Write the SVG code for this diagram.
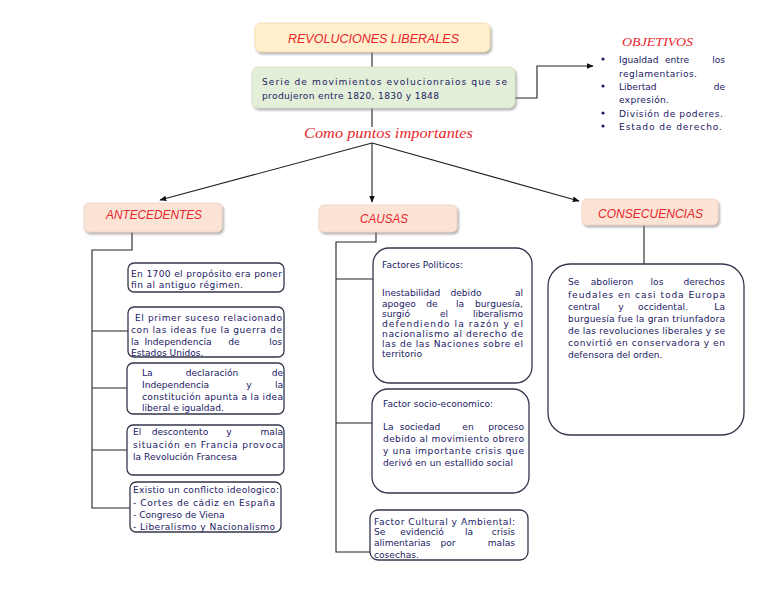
<svg xmlns="http://www.w3.org/2000/svg" width="768" height="594" viewBox="0 0 768 594">
<defs>
<filter id="sh" x="-10%" y="-20%" width="130%" height="160%"><feDropShadow dx="1.5" dy="2" stdDeviation="1.2" flood-color="#7a7a7a" flood-opacity="0.6"/></filter>
<marker id="ar" viewBox="0 0 10 10" refX="9" refY="5" markerWidth="7" markerHeight="7" orient="auto" markerUnits="userSpaceOnUse"><path d="M0,1 L10,5 L0,9 z" fill="#111"/></marker>
</defs>
<style>
.bt{font-family:"DejaVu Sans","Liberation Sans",sans-serif;font-size:9.1px;fill:#1b2064}
.hd{font-family:"Liberation Sans",Arial,sans-serif;font-style:italic;font-size:12.5px;fill:#e8262c}
.sc{font-family:"Liberation Serif","Times New Roman",serif;font-style:italic;fill:#e8262c}
.bx{fill:#fff;stroke:#33364a;stroke-width:1.3}
.lb{fill:#fbe4d6;stroke:#f3d2c0;stroke-width:0.8}
.ln{fill:none;stroke:#222;stroke-width:1.1}
.e{text-anchor:end}
.m{text-anchor:middle}
</style>
<rect width="768" height="594" fill="#fff"/>
<g id="connectors">
<path class="ln" d="M372,52 V67" stroke="#777"/>
<path class="ln" d="M372,108 V127"/>
<path class="ln" d="M372,143 L160,200" marker-end="url(#ar)"/>
<path class="ln" d="M372,143 L372,202" marker-end="url(#ar)"/>
<path class="ln" d="M372,143 L579,201" marker-end="url(#ar)"/>
<path class="ln" d="M515,98 H537 V66 H593" marker-end="url(#ar)"/>
<path class="ln" d="M132,232 V250 H92 V508 H130 M92,331 H128 M92,388 H127 M92,450 H127"/>
<path class="ln" d="M376,232 V242 H336 V552 H370 M336,279 H373 M336,423 H372"/>
<path class="ln" d="M644,225 V264" stroke="#888"/>
</g>
<g id="title">
<rect x="255" y="23" width="235" height="29" rx="6" fill="#ffefcc" stroke="#f2d9a8" stroke-width="0.8" filter="url(#sh)"/>
<text class="hd" x="373.5" y="43" text-anchor="middle" textLength="171" lengthAdjust="spacingAndGlyphs" font-size="14">REVOLUCIONES LIBERALES</text>
</g>
<g id="serie">
<rect x="252" y="67" width="263" height="41" rx="6" fill="#e3efd9" stroke="#cfe0c2" stroke-width="0.8" filter="url(#sh)"/>
<text class="bt" x="262" y="85" textLength="245" lengthAdjust="spacing">Serie de movimientos evolucionraios que se</text>
<text class="bt" x="262" y="99" textLength="177" lengthAdjust="spacing">produjeron entre 1820, 1830 y 1848</text>
</g>
<g id="objetivos">
<text class="sc" x="657.5" y="46" text-anchor="middle" font-size="13" textLength="71" lengthAdjust="spacingAndGlyphs">OBJETIVOS</text>
<g class="bt">
<circle cx="603" cy="59" r="1.6" fill="#1b2064"/>
<circle cx="603" cy="86" r="1.6" fill="#1b2064"/>
<circle cx="603" cy="113" r="1.6" fill="#1b2064"/>
<circle cx="603" cy="126" r="1.6" fill="#1b2064"/>
<text x="619" y="63">Igualdad<tspan x="677" class="m">entre</tspan><tspan x="725" class="e">los</tspan></text>
<text x="619" y="77" textLength="78" lengthAdjust="spacing">reglamentarios.</text>
<text x="619" y="90">Libertad<tspan x="725" class="e">de</tspan></text>
<text x="619" y="103" textLength="50" lengthAdjust="spacing">expresión.</text>
<text x="619" y="117" textLength="104" lengthAdjust="spacing">División de poderes.</text>
<text x="619" y="130" textLength="103" lengthAdjust="spacing">Estado de derecho.</text>
</g>
</g>
<g id="puntos">
<text class="sc" x="388.5" y="138" text-anchor="middle" font-size="14" textLength="169" lengthAdjust="spacingAndGlyphs">Como puntos importantes</text>
</g>
<g id="antecedentes">
<rect class="lb" x="84" y="203" width="138" height="29" rx="5" filter="url(#sh)"/>
<text class="hd" x="154" y="219" text-anchor="middle" textLength="96" lengthAdjust="spacingAndGlyphs">ANTECEDENTES</text>
</g>
<g id="causas">
<rect class="lb" x="319" y="205" width="138" height="27" rx="5" filter="url(#sh)"/>
<text class="hd" x="384" y="223" text-anchor="middle" textLength="48" lengthAdjust="spacingAndGlyphs">CAUSAS</text>
</g>
<g id="consecuencias">
<rect class="lb" x="582" y="199" width="136" height="26" rx="5" filter="url(#sh)"/>
<text class="hd" x="650.5" y="218" text-anchor="middle" textLength="105" lengthAdjust="spacingAndGlyphs">CONSECUENCIAS</text>
</g>
<g id="ant1">
<rect class="bx" x="128" y="263" width="156" height="29" rx="6"/>
<text class="bt" x="131" y="277" textLength="151" lengthAdjust="spacing">En 1700 el propósito era poner</text>
<text class="bt" x="131" y="288" textLength="112" lengthAdjust="spacing">fin al antiguo régimen.</text>
</g>
<g id="ant2">
<rect class="bx" x="128" y="307" width="156" height="50" rx="6"/>
<text class="bt" x="135" y="321" textLength="147" lengthAdjust="spacing">El primer suceso relacionado</text>
<text class="bt" x="131" y="333" textLength="151" lengthAdjust="spacing">con las ideas fue la guerra de</text>
<text class="bt" x="131" y="345">la<tspan x="178" class="m">Independencia</tspan><tspan x="234" class="m">de</tspan><tspan x="282" class="e">los</tspan></text>
<text class="bt" x="131" y="356">Estados Unidos.</text>
</g>
<g id="ant3">
<rect class="bx" x="127" y="363" width="157" height="51" rx="6"/>
<text class="bt" x="142" y="376">La<tspan x="212" class="m">declaración</tspan><tspan x="283" class="e">de</tspan></text>
<text class="bt" x="142" y="388">Independencia<tspan x="249" class="m">y</tspan><tspan x="283" class="e">la</tspan></text>
<text class="bt" x="142" y="400" textLength="141" lengthAdjust="spacing">constitución apunta a la idea</text>
<text class="bt" x="142" y="411">liberal e igualdad.</text>
</g>
<g id="ant4">
<rect class="bx" x="127" y="425" width="157" height="50" rx="6"/>
<text class="bt" x="133" y="435">El<tspan x="180" class="m">descontento</tspan><tspan x="229" class="m">y</tspan><tspan x="283" class="e">mala</tspan></text>
<text class="bt" x="133" y="448" textLength="150" lengthAdjust="spacing">situación en Francia provoca</text>
<text class="bt" x="133" y="460">la Revolución Francesa</text>
</g>
<g id="ant5">
<rect class="bx" x="130" y="482" width="151" height="50" rx="6"/>
<text class="bt" x="133" y="493" textLength="146" lengthAdjust="spacing">Existio un conflicto ideologico:</text>
<text class="bt" x="133" y="506" textLength="142" lengthAdjust="spacing">- Cortes de cádiz en España</text>
<text class="bt" x="133" y="518">- Congreso de Viena</text>
<text class="bt" x="133" y="530" textLength="142" lengthAdjust="spacing">- Liberalismo y Nacionalismo</text>
</g>
<g id="cau1">
<rect class="bx" x="373" y="248" width="159" height="135" rx="16"/>
<text class="bt" x="382" y="268">Factores Políticos:</text>
<text class="bt" x="382" y="296">Inestabilidad<tspan x="466" class="m">debido</tspan><tspan x="523" class="e">al</tspan></text>
<text class="bt" x="382" y="307">apogeo<tspan x="432" class="m">de</tspan><tspan x="460" class="m">la</tspan><tspan x="523" class="e">burguesía,</tspan></text>
<text class="bt" x="382" y="317">surgió<tspan x="444" class="m">el</tspan><tspan x="523" class="e">liberalismo</tspan></text>
<text class="bt" x="382" y="327" textLength="141" lengthAdjust="spacing">defendiendo la razón y el</text>
<text class="bt" x="382" y="337" textLength="141" lengthAdjust="spacing">nacionalismo al derecho de</text>
<text class="bt" x="382" y="347" textLength="141" lengthAdjust="spacing">las de las Naciones sobre el</text>
<text class="bt" x="382" y="357">territorio</text>
</g>
<g id="cau2">
<rect class="bx" x="372" y="389" width="157" height="104" rx="16"/>
<text class="bt" x="383" y="407">Factor socio-economico:</text>
<text class="bt" x="383" y="430">La<tspan x="420" class="m">sociedad</tspan><tspan x="468" class="m">en</tspan><tspan x="524" class="e">proceso</tspan></text>
<text class="bt" x="383" y="442" textLength="141" lengthAdjust="spacing">debido al movimiento obrero</text>
<text class="bt" x="383" y="454" textLength="141" lengthAdjust="spacing">y una importante crisis que</text>
<text class="bt" x="383" y="466" textLength="130" lengthAdjust="spacing">derivó en un estallido social</text>
</g>
<g id="cau3">
<rect class="bx" x="370" y="510" width="158" height="50" rx="8"/>
<text class="bt" x="374" y="525" textLength="141" lengthAdjust="spacing">Factor Cultural y Ambiental:</text>
<text class="bt" x="374" y="535">Se<tspan x="422" class="m">evidenció</tspan><tspan x="469" class="m">la</tspan><tspan x="515" class="e">crisis</tspan></text>
<text class="bt" x="374" y="546">alimentarias<tspan x="448" class="m">por</tspan><tspan x="515" class="e">malas</tspan></text>
<text class="bt" x="374" y="558">cosechas.</text>
</g>
<g id="cons1">
<rect class="bx" x="548" y="264" width="196" height="171" rx="22"/>
<text class="bt" x="568" y="285">Se<tspan x="612" class="m">abolieron</tspan><tspan x="657" class="m">los</tspan><tspan x="725" class="e">derechos</tspan></text>
<text class="bt" x="568" y="298" textLength="157" lengthAdjust="spacing">feudales en casi toda Europa</text>
<text class="bt" x="568" y="310">central<tspan x="621" class="m">y</tspan><tspan x="663" class="m">occidental.</tspan><tspan x="725" class="e">La</tspan></text>
<text class="bt" x="568" y="322" textLength="157" lengthAdjust="spacing">burguesía fue la gran triunfadora</text>
<text class="bt" x="568" y="334" textLength="157" lengthAdjust="spacing">de las revoluciones liberales y se</text>
<text class="bt" x="568" y="346" textLength="157" lengthAdjust="spacing">convirtió en conservadora y en</text>
<text class="bt" x="568" y="358">defensora del orden.</text>
</g>
</svg>
